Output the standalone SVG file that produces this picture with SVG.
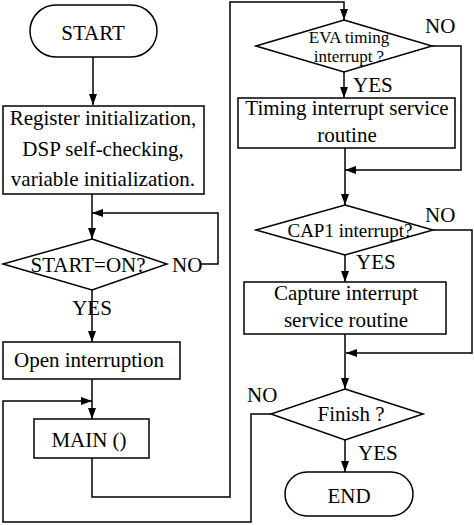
<svg xmlns="http://www.w3.org/2000/svg" width="474" height="525" viewBox="0 0 474 525">
<defs>
<marker id="ah" markerUnits="userSpaceOnUse" markerWidth="12" markerHeight="10" refX="11" refY="4" orient="auto"><path d="M0,0 L11,4 L0,8 Z" fill="#000"/></marker>
<style>
.s{fill:#fff;stroke:#000;stroke-width:1.5}
.c{fill:none;stroke:#000;stroke-width:1.5;marker-end:url(#ah)}
.l{fill:none;stroke:#000;stroke-width:1.5}
text{font-family:"Liberation Serif","Times New Roman",serif;font-size:21px;fill:#000}
.m{text-anchor:middle}
.sm{font-size:17px}
</style>
</defs>
<rect width="474" height="525" fill="#fff"/>
<g id="connectors">
<path class="c" d="M93 57 V105"/>
<path class="c" d="M92 194 V239"/>
<path class="c" d="M200 264 H218 V213 H92"/>
<path class="c" d="M92 290 V342"/>
<path class="c" d="M92 379 V419"/>
<path class="c" d="M271 414 H251 V522 H3 V401 H92"/>
<path class="c" d="M92 458 V497 H230 V2 H344 V20"/>
<path class="c" d="M344 72 V98"/>
<path class="c" d="M432 46 H461 V170 H345"/>
<path class="c" d="M345 148 V205"/>
<path class="c" d="M345 255 V282"/>
<path class="c" d="M433 230 H472 V353 H346"/>
<path class="c" d="M345 334 V389"/>
<path class="c" d="M345 440 V472"/>
</g>
<g id="start">
<rect class="s" x="30" y="5" width="127" height="52" rx="26"/>
<text class="m" x="93" y="40">START</text>
</g>
<g id="init">
<rect class="s" x="3" y="106" width="201" height="88"/>
<text class="m" x="103" y="125">Register initialization,</text>
<text class="m" x="103" y="156">DSP self-checking,</text>
<text class="m" x="103" y="186">variable initialization.</text>
</g>
<g id="startOn">
<path class="s" d="M92 239 L167 264 L92 290 L3 264 Z"/>
<text class="m" x="88" y="272">START=ON?</text>
<text x="172" y="272">NO</text>
<text class="m" x="92" y="315">YES</text>
</g>
<g id="open">
<rect class="s" x="3" y="342" width="177" height="37"/>
<text class="m" x="89" y="367">Open interruption</text>
</g>
<g id="main">
<rect class="s" x="34" y="419" width="115" height="39"/>
<text class="m" x="89" y="447">MAIN ()</text>
</g>
<g id="eva">
<path class="s" d="M344 20 L432 46 L344 72 L256 46 Z"/>
<text class="m sm" x="349" y="43">EVA timing</text>
<text class="m sm" x="349" y="62">interrupt ?</text>
<text x="425" y="33">NO</text>
<text x="353" y="92">YES</text>
</g>
<g id="timing">
<rect class="s" x="238" y="98" width="217" height="50"/>
<text class="m" x="347" y="115">Timing interrupt service</text>
<text class="m" x="347" y="142">routine</text>
</g>
<g id="cap1">
<path class="s" d="M345 205 L433 230 L345 255 L256 230 Z"/>
<text class="m" x="350" y="237" style="font-size:19px">CAP1 interrupt?</text>
<text x="425" y="222">NO</text>
<text x="356" y="269">YES</text>
</g>
<g id="capture">
<rect class="s" x="244" y="282" width="202" height="52"/>
<text class="m" x="346" y="300">Capture interrupt</text>
<text class="m" x="346" y="327">service routine</text>
</g>
<g id="finish">
<path class="s" d="M345 389 L423 414 L345 440 L271 414 Z"/>
<text class="m" x="351" y="421">Finish ?</text>
<text x="247" y="402">NO</text>
<text x="358" y="460">YES</text>
</g>
<g id="end">
<rect class="s" x="285" y="472" width="128" height="44" rx="22"/>
<text class="m" x="349" y="503">END</text>
</g>
</svg>
